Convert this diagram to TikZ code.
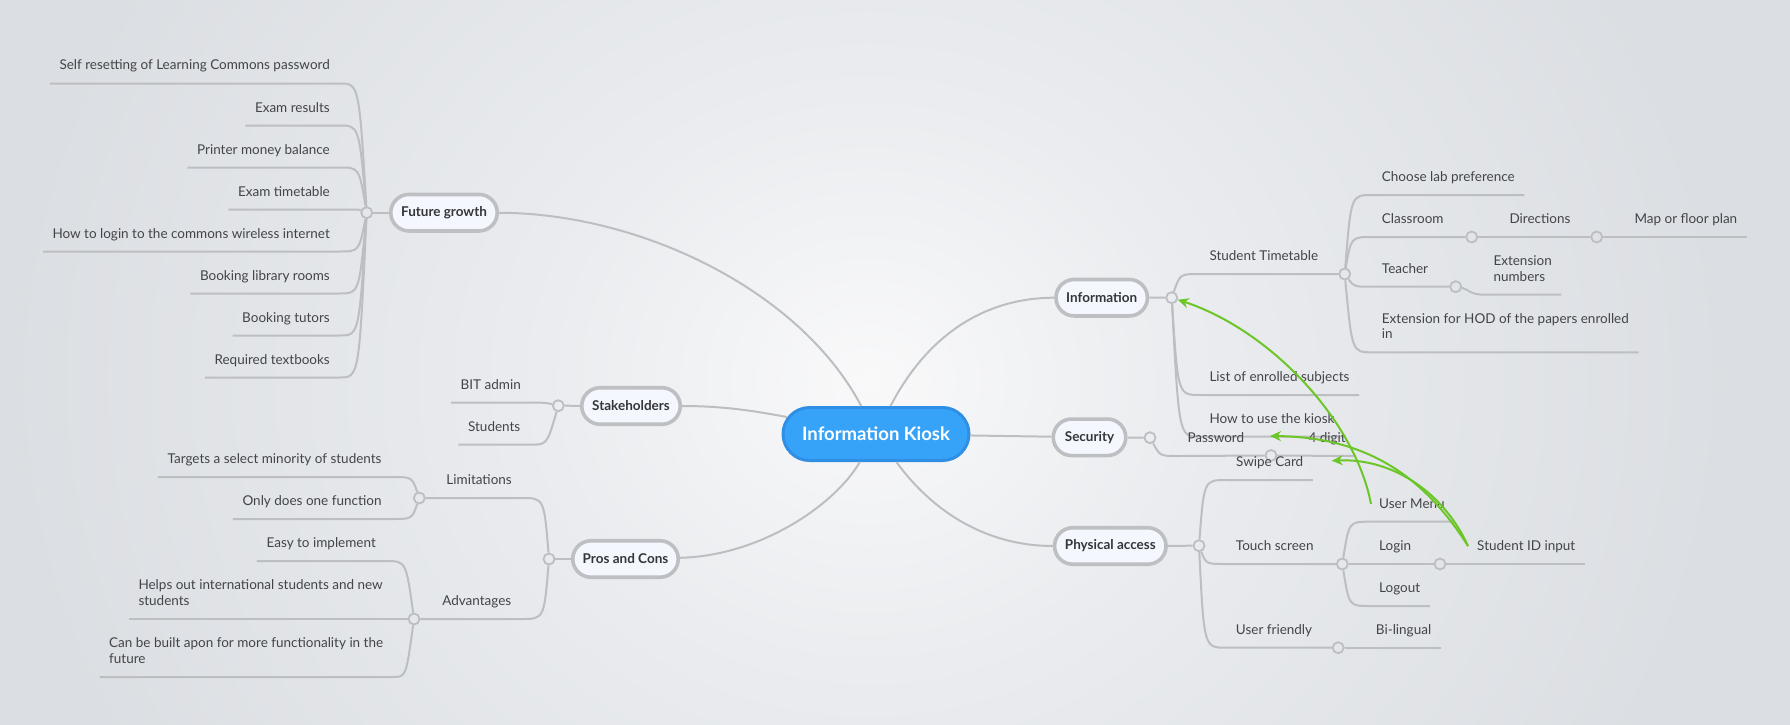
\documentclass[tikz,border=0pt]{standalone}
\usepackage{fontspec}
\setmainfont{Lato}
\usetikzlibrary{shapes.misc,arrows.meta}
\definecolor{bgOut}{RGB}{219,222,226}
\definecolor{bgMid}{RGB}{234,236,239}
\definecolor{bgIn}{RGB}{249,249,250}
\definecolor{linec}{RGB}{189,190,193}
\definecolor{txtc}{RGB}{66,68,72}
\definecolor{topicfill}{RGB}{244,248,254}
\definecolor{topicline}{RGB}{190,191,194}
\definecolor{toptxt}{RGB}{52,54,58}
\definecolor{kfill}{RGB}{55,163,248}
\definecolor{kline}{RGB}{46,143,228}
\definecolor{relc}{RGB}{108,198,40}
\pgfdeclareradialshading{bgglow}{\pgfpointorigin}{color(0bp)=(bgIn); color(9bp)=(bgMid); color(24bp)=(bgOut); color(50bp)=(bgOut)}
\newcommand{\mmLbl}{\fontsize{13.5}{16}\selectfont}
\newcommand{\mmTopic}{\fontsize{13.5}{16}\selectfont\bfseries}
\newcommand{\mmKiosk}{\fontsize{18.5}{22}\selectfont\bfseries}
\begin{document}
\begin{tikzpicture}[x=1pt,y=-1pt,
  kiosk/.style={rounded rectangle, draw=kline, line width=3pt, fill=kfill, text=white, font=\mmKiosk, minimum width=186pt, minimum height=53pt, inner sep=0pt},
  topic/.style={rounded rectangle, draw=topicline, line width=3.6pt, fill=topicfill, text=toptxt, font=\mmTopic, minimum height=36.5pt, inner sep=0pt},
  jn/.style={circle, draw=linec, line width=1.8pt, minimum size=11pt, inner sep=0pt},
  br/.style={draw=linec, line width=2pt},
  rel/.style={draw=relc, line width=2pt, -{Stealth[length=11pt,width=10pt]}},
  lbl/.style={font=\mmLbl, text=txtc, inner xsep=9.5pt, inner ysep=0pt, text height=10pt, text depth=13.3pt},
  lbla/.style={font=\mmLbl, text=txtc, inner xsep=9.5pt, inner ysep=0pt}]
\useasboundingbox (0,0) rectangle (1790,725);
\begin{scope}
\clip (0,0) rectangle (1790,725);
\fill[bgOut] (0,0) rectangle (1790,725);
\shade[shading=bgglow] (868,380) circle[x radius=900pt, y radius=800pt];
\end{scope}

% central and main topics
\node[kiosk] (ik) at (876,434) {Information Kiosk};
\node[topic, minimum width=106.5pt] (fg) at (444,212.7) {Future growth};
\node[topic, minimum width=98.5pt] (sh) at (631,406) {Stakeholders};
\node[topic, minimum width=105.5pt] (pc) at (625.5,559) {Pros and Cons};
\node[topic, minimum width=91.5pt] (info) at (1101.7,297.7) {Information};
\node[topic, minimum width=72.5pt] (sec) at (1089.5,437.3) {Security};
\node[topic, minimum width=111.5pt] (pa) at (1110.3,546) {Physical access};

% junctions
\node[jn] (jFG) at (366.7,212.7) {};
\node[jn] (jSH) at (558.3,405.7) {};
\node[jn] (jPC) at (549,559) {};
\node[jn] (jLim) at (419.3,498) {};
\node[jn] (jAdv) at (414,619) {};
\node[jn] (jInfo) at (1171.7,297.7) {};
\node[jn] (jST) at (1344.7,274) {};
\node[jn] (jCl) at (1471.7,237) {};
\node[jn] (jDir) at (1596.7,237) {};
\node[jn] (jTe) at (1455.7,286.7) {};
\node[jn] (jSec) at (1150,437.7) {};
\node[jn] (jPw) at (1271,455.5) {};
\node[jn] (jPA) at (1199,545.7) {};
\node[jn] (jTS) at (1342.3,564) {};
\node[jn] (jLo) at (1440,564) {};
\node[jn] (jUF) at (1338.2,647.7) {};

% main connectors
\draw[br] (ik) .. controls (800,290) and (640,213) .. (fg);
\draw[br] (ik) .. controls (930,330) and (990,297.7) .. (info);
\draw[br] (ik) .. controls (750,410) and (720,406) .. (sh);
\draw[br] (ik) .. controls (835,505) and (760,556) .. (pc);
\draw[br] (ik) -- (sec);
\draw[br] (ik) .. controls (935,515) and (990,546) .. (pa);
\draw[br] (fg) -- (jFG);
\draw[br] (sh) -- (jSH);
\draw[br] (pc) -- (jPC);
\draw[br] (info) -- (jInfo);
\draw[br] (sec) -- (jSec);
\draw[br] (pa) -- (jPA);

% Future growth
\node[lbl, anchor=south east] (fg1) at (339.5,83.5) {Self resetting of Learning Commons password};
\node[lbl, anchor=south east] (fg2) at (339.5,125.5) {Exam results};
\node[lbl, anchor=south east] (fg3) at (339.5,167.5) {Printer money balance};
\node[lbl, anchor=south east] (fg4) at (339.5,209.5) {Exam timetable};
\node[lbl, anchor=south east] (fg5) at (339.5,251.5) {How to login to the commons wireless internet};
\node[lbl, anchor=south east] (fg6) at (339.5,293.5) {Booking library rooms};
\node[lbl, anchor=south east] (fg7) at (339.5,335.5) {Booking tutors};
\node[lbl, anchor=south east] (fg8) at (339.5,377.5) {Required textbooks};
\foreach \n/\y in {fg1/83.5,fg2/125.5,fg3/167.5,fg4/209.5,fg5/251.5,fg6/293.5,fg7/335.5,fg8/377.5}
  \draw[br] (jFG) .. controls (359,\y) .. (\n.south east) -- (\n.south west);

% Stakeholders
\node[lbl, anchor=south east] (sh1) at (530.5,402.7) {BIT admin};
\node[lbl, anchor=south east] (sh2) at (530,444.7) {Students};
\draw[br] (jSH) .. controls (547,402.7) .. (sh1.south east) -- (sh1.south west);
\draw[br] (jSH) .. controls (547,444.7) .. (sh2.south east) -- (sh2.south west);

% Pros and Cons
\node[lbl, anchor=south east] (lim) at (521.5,498) {Limitations};
\node[lbl, anchor=south east] (adv) at (521,619) {Advantages};
\draw[br] (jPC) .. controls (544,498) .. (lim.south east) -- (jLim);
\draw[br] (jPC) .. controls (544,619) .. (adv.south east) -- (jAdv);
\node[lbl, anchor=south east] (tgt) at (391.2,477) {Targets a select minority of students};
\node[lbl, anchor=south east] (odf) at (391.2,519) {Only does one function};
\draw[br] (jLim) .. controls (412,477) .. (tgt.south east) -- (tgt.south west);
\draw[br] (jLim) .. controls (412,519) .. (odf.south east) -- (odf.south west);
\node[lbl, anchor=south east] (eti) at (385.5,561) {Easy to implement};
\draw[br] (jAdv) .. controls (406,561) .. (eti.south east) -- (eti.south west);
\node[lbl, anchor=south west] (hoi2) at (128.8,619) {students};
\node[lbla, anchor=base west] (hoi1) at (128.8,589.7) {Helps out international students and new};
\draw[br] (jAdv) -- (hoi2.south west);
\node[lbl, anchor=south west] (cbb2) at (99.5,677) {future};
\node[lbla, anchor=base west] (cbb1) at (99.5,647.7) {Can be built apon for more functionality in the};
\draw[br] (jAdv) .. controls (406,677) .. (cbb2.south west -| cbb1.east) -- (cbb2.south west);

% Information
\node[lbl, anchor=south west] (st) at (1199.8,274) {Student Timetable};
\node[lbl, anchor=south west] (les) at (1199.8,395) {List of enrolled subjects};
\node[lbl, anchor=south west] (htu) at (1199.8,436.7) {How to use the kiosk};
\draw[br] (jInfo) .. controls (1180,274) .. (st.south west) -- (jST);
\draw[br] (jInfo) .. controls (1178,395) .. (les.south west) -- (les.south east);
\draw[br] (jInfo) .. controls (1179,436.7) .. (htu.south west) -- (htu.south east);
\node[lbl, anchor=south west] (clp) at (1372.2,195) {Choose lab preference};
\node[lbl, anchor=south west] (cls) at (1372.2,237) {Classroom};
\node[lbl, anchor=south west] (tch) at (1372.2,286.7) {Teacher};
\node[lbl, anchor=south west] (hod2) at (1372.2,352.3) {in};
\node[lbla, anchor=base west] (hod1) at (1372.2,323) {Extension for HOD of the papers enrolled};
\draw[br] (jST) .. controls (1351,195) .. (clp.south west) -- (clp.south east);
\draw[br] (jST) .. controls (1351,237) .. (cls.south west) -- (jCl);
\draw[br] (jST) .. controls (1354,286.7) .. (tch.south west) -- (jTe);
\draw[br] (jST) .. controls (1352,352.3) .. (hod2.south west) -- (hod2.south west -| hod1.east);
\node[lbl, anchor=south west] (dir) at (1499.8,237) {Directions};
\draw[br] (jCl) -- (jDir);
\node[lbl, anchor=south west] (map) at (1624.8,237) {Map or floor plan};
\draw[br] (jDir) -- (map.south east);
\node[lbl, anchor=south west] (ext2) at (1483.8,294.7) {numbers};
\node[lbla, anchor=base west] (ext1) at (1483.8,265.4) {Extension};
\draw[br] (jTe) .. controls (1468,289) and (1470,294.7) .. (ext2.south west) -- (ext2.south west -| ext1.east);

% Security
\node[lbl, anchor=south west] (pw) at (1177.8,456) {Password};
\draw[br] (jSec) .. controls (1160,456) .. (pw.south west) -- (jPw);
\node[lbl, anchor=south west] (dig) at (1298.8,456) {4 digit};
\draw[br] (jPw) -- (dig.south east);

% Physical access
\node[lbl, anchor=south west] (swc) at (1226.5,480) {Swipe Card};
\node[lbl, anchor=south west] (tsc) at (1226.2,564) {Touch screen};
\node[lbl, anchor=south west] (ufr) at (1226.2,647.7) {User friendly};
\draw[br] (jPA) .. controls (1204,480) .. (swc.south west) -- (swc.south east);
\draw[br] (jPA) .. controls (1206,564) .. (tsc.south west) -- (jTS);
\draw[br] (jPA) .. controls (1204,647.7) .. (ufr.south west) -- (jUF);
\node[lbl, anchor=south west] (um) at (1369.5,521.7) {User Menu};
\node[lbl, anchor=south west] (lgn) at (1369.5,564) {Login};
\node[lbl, anchor=south west] (lgo) at (1369.5,606) {Logout};
\draw[br] (jTS) .. controls (1349,521.7) .. (um.south west) -- (um.south east);
\draw[br] (jTS) -- (jLo);
\draw[br] (jTS) .. controls (1349,606) .. (lgo.south west) -- (lgo.south east);
\node[lbl, anchor=south west] (sid) at (1467.5,564) {Student ID input};
\draw[br] (jLo) -- (sid.south east);
\node[lbl, anchor=south west] (bil) at (1366.2,647.7) {Bi-lingual};
\draw[br] (jUF) -- (bil.south east);

% relationships
\coordinate (umS) at (1371,504);
\coordinate (sidS) at (1468,546);
\coordinate (pwT) at (1270,436);
\coordinate (swT) at (1331.7,460.7);
\draw[rel] (umS) .. controls (1355,420) and (1270,330) .. (jInfo);
\draw[rel] (sidS) .. controls (1420,470) and (1360,437) .. (pwT);
\draw[rel] (sidS) .. controls (1445,495) and (1395,458) .. (swT);
\end{tikzpicture}
\end{document}
